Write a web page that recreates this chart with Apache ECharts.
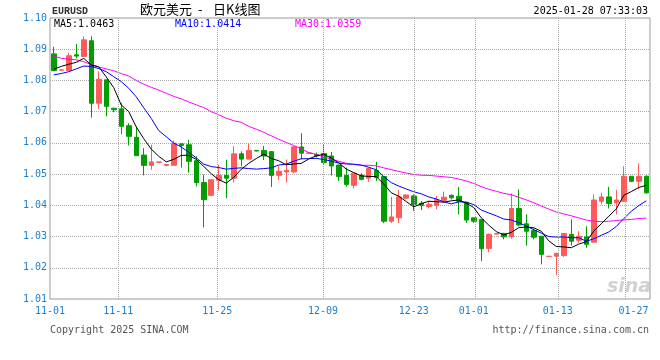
<!DOCTYPE html>
<html><head><meta charset="utf-8">
<script src="https://cdn.jsdelivr.net/npm/echarts@6/dist/echarts.min.js"></script>
<style>html,body{margin:0;padding:0;background:#fff}#c{width:660px;height:360px}</style>
</head><body><div id="c"></div>
<script>
// Daily OHLC (EUR/USD), one value per candle
const openP = [1.0885,1.0833,1.0832,1.0882,1.0877,1.0927,1.0727,1.0802,1.0711,1.0709,
  1.0655,1.0618,1.0561,1.0528,1.0538,1.0528,1.0528,1.0597,1.0594,1.0543,
  1.0473,1.0432,1.0480,1.0496,1.0487,1.0565,1.0548,1.0576,1.0576,1.0572,
  1.0496,1.0507,1.0507,1.0587,1.0566,1.0563,1.0566,1.0558,1.0529,1.0496,
  1.0464,1.0496,1.0487,1.0512,1.0492,1.0349,1.0360,1.0423,1.0430,1.0407,
  1.0396,1.0400,1.0416,1.0432,1.0429,1.0410,1.0360,1.0355,1.0262,1.0308,
  1.0310,1.0299,1.0390,1.0341,1.0319,1.0301,1.0236,1.0237,1.0239,1.0307,
  1.0288,1.0299,1.0282,1.0413,1.0427,1.0408,1.0413,1.0493,1.0477,1.0493];
const closeP = [1.0832,1.0834,1.0879,1.0878,1.0930,1.0727,1.0804,1.0717,1.0706,1.0653,
  1.0621,1.0559,1.0528,1.0539,1.0539,1.0531,1.0599,1.0592,1.0541,1.0473,
  1.0418,1.0482,1.0496,1.0487,1.0565,1.0548,1.0576,1.0574,1.0558,1.0496,
  1.0509,1.0512,1.0587,1.0567,1.0568,1.0558,1.0537,1.0526,1.0492,1.0467,
  1.0503,1.0483,1.0518,1.0489,1.0349,1.0363,1.0427,1.0433,1.0403,1.0400,
  1.0403,1.0419,1.0426,1.0424,1.0413,1.0353,1.0349,1.0261,1.0307,1.0310,
  1.0299,1.0390,1.0337,1.0317,1.0298,1.0243,1.0237,1.0246,1.0310,1.0285,
  1.0301,1.0275,1.0417,1.0427,1.0406,1.0417,1.0493,1.0477,1.0493,1.0440];
const lowP = [1.0830,1.0832,1.0831,1.0871,1.0876,1.0681,1.0709,1.0685,1.0698,1.0628,
  1.0592,1.0558,1.0496,1.0514,1.0537,1.0525,1.0527,1.0521,1.0505,1.0461,
  1.0329,1.0429,1.0448,1.0423,1.0473,1.0525,1.0547,1.0573,1.0545,1.0459,
  1.0481,1.0473,1.0503,1.0547,1.0564,1.0553,1.0531,1.0496,1.0478,1.0460,
  1.0454,1.0480,1.0475,1.0478,1.0343,1.0343,1.0343,1.0419,1.0382,1.0385,
  1.0390,1.0387,1.0409,1.0419,1.0371,1.0344,1.0344,1.0221,1.0250,1.0307,
  1.0291,1.0293,1.0333,1.0271,1.0291,1.0211,1.0235,1.0176,1.0235,1.0271,
  1.0280,1.0264,1.0281,1.0403,1.0390,1.0371,1.0412,1.0474,1.0451,1.0437];
const highP = [1.0908,1.0835,1.0889,1.0917,1.0941,1.0941,1.0829,1.0802,1.0712,1.0727,
  1.0663,1.0653,1.0583,1.0594,1.0540,1.0532,1.0607,1.0598,1.0610,1.0557,
  1.0498,1.0482,1.0530,1.0546,1.0589,1.0573,1.0597,1.0577,1.0590,1.0574,
  1.0526,1.0547,1.0590,1.0631,1.0570,1.0569,1.0596,1.0571,1.0530,1.0521,
  1.0503,1.0503,1.0518,1.0539,1.0492,1.0427,1.0449,1.0435,1.0435,1.0414,
  1.0414,1.0430,1.0444,1.0435,1.0459,1.0410,1.0361,1.0357,1.0310,1.0311,
  1.0312,1.0438,1.0451,1.0371,1.0326,1.0302,1.0238,1.0248,1.0310,1.0355,
  1.0317,1.0333,1.0435,1.0440,1.0459,1.0449,1.0525,1.0494,1.0534,1.0496];

// Moving-average values for the first candles
// (their windows reach back before the first visible candle)
const ma5Head = [1.0836,1.0845,1.0852,1.0858];
const ma10Head = [1.0818,1.0822,1.0828,1.0837,1.0846,1.0845,1.0838,1.0828,1.0812];
const ma30Head = [1.0878,1.0871,1.0868,1.0866,1.0860,1.0851,1.0843,1.0837,1.0831,1.0822,
  1.0814,1.0800,1.0788,1.0778,1.0769,1.0759,1.0749,1.0741,1.0731,1.0722,
  1.0713,1.0700,1.0690,1.0679,1.0671,1.0666,1.0653,1.0644,1.0634];

const xTickLabels = ['11-01','11-11','11-25','12-09','12-23','01-01','01-13','01-27'];
const xLabelPos = [-0.5, 8.6, 21.8, 35.9, 48.0, 56.0, 67.2, 77.3];
const xGridPos = [8.6, 21.8, 35.9, 48.1, 56.2, 67.3, 76.2];

const headerTexts = ['MA5:1.0463', 'MA10:1.0414', 'MA30:1.0359'];

const days = closeP.map((_, i) => String(i));
const candles = closeP.map((c, i) => [openP[i], c, lowP[i], highP[i]]);

function movingAvg(n, head) {
  return closeP.map((_, i) => {
    if (i < head.length) return head[i];
    let s = 0;
    for (let k = i - n + 1; k <= i; k++) s += closeP[k];
    return +(s / n).toFixed(5);
  });
}
const ma5 = movingAvg(5, ma5Head);
const ma10 = movingAvg(10, ma10Head);
const ma30 = movingAvg(30, ma30Head);

const MONO = 'DejaVu Sans Mono';
const BLUE = '#1a7fd0';
const chart = echarts.init(document.getElementById('c'), null, {renderer: 'canvas'});
chart.setOption({
  animation: false,
  backgroundColor: '#fff',
  grid: {left: 50, right: 10, top: 18, bottom: 61, show: true, borderColor: '#999', borderWidth: 1, backgroundColor: 'transparent'},
  xAxis: [
    {type: 'category', data: days, boundaryGap: true,
      axisLine: {show: false}, axisTick: {show: false}, axisLabel: {show: false}, splitLine: {show: false}},
    {type: 'value', min: -0.5, max: 79.5, position: 'bottom',
      axisLine: {show: false, onZero: false}, axisTick: {show: false}, splitLine: {show: false},
      axisLabel: {customValues: xLabelPos, color: BLUE, fontFamily: MONO, fontSize: 10, margin: 7,
        formatter: v => { const k = xLabelPos.findIndex(p => Math.abs(p - v) < 1e-6); return k >= 0 ? xTickLabels[k] : ''; }}}
  ],
  yAxis: {type: 'value', min: 1.01, max: 1.10, interval: 0.01, scale: true,
    axisLine: {show: false}, axisTick: {show: false},
    splitLine: {show: true, showMinLine: false, showMaxLine: false, lineStyle: {color: '#aaa', type: [1, 1], width: 1}},
    axisLabel: {formatter: v => v.toFixed(2), color: BLUE, fontFamily: MONO, fontSize: 10, margin: 3}},
  series: [
    {type: 'line', xAxisIndex: 1, data: [], z: 0, silent: true,
      markLine: {silent: true, symbol: ['none', 'none'], label: {show: false},
        lineStyle: {color: '#aaa', type: [1, 1], width: 1},
        data: xGridPos.map(v => ({xAxis: v}))}},
    {type: 'candlestick', xAxisIndex: 0, data: candles, barWidth: 5, z: 2,
      itemStyle: {color: '#ff5a5a', color0: '#009e00', borderColor: '#ff5a5a', borderColor0: '#009e00', borderWidth: 1}},
    {type: 'line', xAxisIndex: 0, data: ma30, symbol: 'none', z: 3, lineStyle: {color: '#ff00ff', width: 1}},
    {type: 'line', xAxisIndex: 0, data: ma10, symbol: 'none', z: 4, lineStyle: {color: '#0000ff', width: 1}},
    {type: 'line', xAxisIndex: 0, data: ma5, symbol: 'none', z: 5, lineStyle: {color: '#000000', width: 1}}
  ],
  graphic: [
    {type: 'text', left: 52, top: 6, style: {text: 'EURUSD', fill: '#333', font: 'bold 10px "Liberation Mono"'}},
    {type: 'text', left: 140, top: 3, style: {text: '欧元美元', fill: '#000', font: '13px "Noto Sans CJK SC"'}},
    {type: 'text', left: 198, top: 3, style: {text: '-', fill: '#000', font: '13px "Noto Sans CJK SC"'}},
    {type: 'text', left: 213, top: 3, style: {text: '日K线图', fill: '#000', font: '13px "Noto Sans CJK SC"'}},
    {type: 'text', right: 12, top: 6, style: {text: '2025-01-28 07:33:03', fill: '#000', font: '10px "DejaVu Sans Mono"'}},
    {type: 'text', left: 54, top: 19, style: {text: headerTexts[0], fill: '#000', font: '10px "DejaVu Sans Mono"'}},
    {type: 'text', left: 175, top: 19, style: {text: headerTexts[1], fill: '#0000ff', font: '10px "DejaVu Sans Mono"'}},
    {type: 'text', left: 295, top: 19, style: {text: headerTexts[2], fill: '#ff00ff', font: '10px "DejaVu Sans Mono"'}},
    {type: 'text', left: 50, top: 325, style: {text: 'Copyright 2025 SINA.COM', fill: '#555', font: '10px "DejaVu Sans Mono"'}},
    {type: 'text', right: 11, top: 325, style: {text: 'http://finance.sina.com.cn', fill: '#555', font: '10px "DejaVu Sans Mono"'}},
    {type: 'text', left: 607, top: 278, z: 1, style: {text: 'sina', fill: 'rgba(190,190,190,0.7)', font: 'italic bold 19px "DejaVu Sans"'}}
  ]
});
</script></body></html>
